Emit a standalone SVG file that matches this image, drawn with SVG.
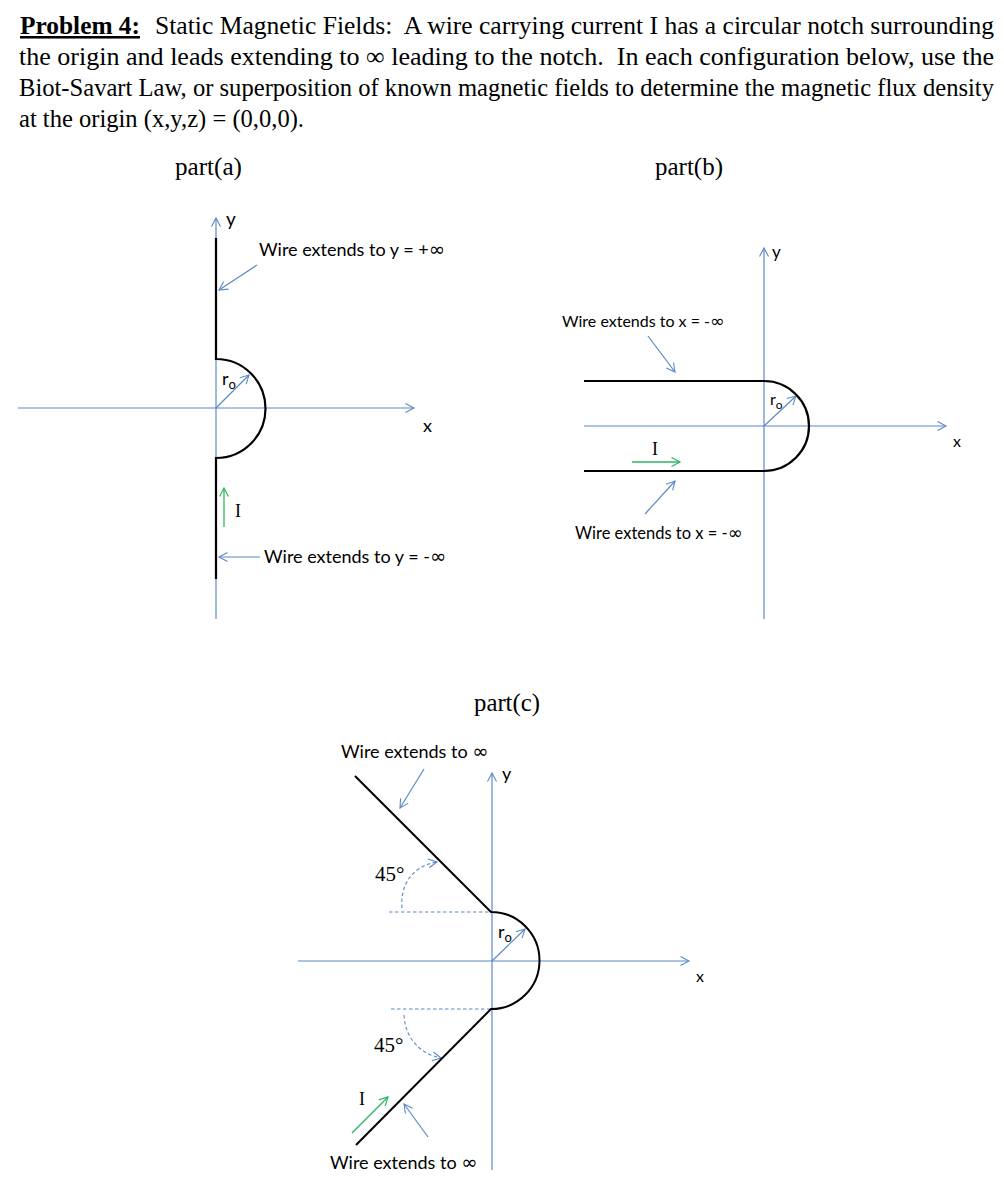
<svg xmlns="http://www.w3.org/2000/svg" width="1004" height="1196" viewBox="0 0 1004 1196">
<style>
text{fill:#000;white-space:pre}
.t{font-family:"Liberation Serif","Times New Roman",serif;font-size:25.5px}
.l{font-family:Lato,"Open Sans",sans-serif;font-size:18px}
.n{font-family:"DejaVu Sans",sans-serif;font-size:1.1em}
.m{font-family:"Liberation Serif",serif;font-size:18px}
.a{font-family:"Liberation Serif",serif;font-size:21px}
.ax{stroke:#5b8ac6;stroke-width:1.2;fill:none;marker-end:url(#b)}
.d{stroke:#5b8ac6;stroke-width:1.1;fill:none;stroke-dasharray:3.5 2.5}
.da{stroke:#5b8ac6;stroke-width:1.1;fill:none;stroke-dasharray:3.5 2.5;marker-end:url(#b)}
.w{stroke:#000;stroke-width:2.2;fill:none}
.g{stroke:#2db563;stroke-width:1.3;fill:none;marker-end:url(#g)}
</style>
<defs>
<marker id="b" markerUnits="userSpaceOnUse" markerWidth="12" markerHeight="12" refX="9" refY="5" orient="auto"><path d="M0.500 0.500L9 5L0.500 9.500" fill="none" stroke="#5b8ac6" stroke-width="1.1" stroke-dasharray="none"/></marker>
<marker id="g" markerUnits="userSpaceOnUse" markerWidth="12" markerHeight="12" refX="9" refY="5" orient="auto"><path d="M0.500 0.500L9 5L0.500 9.500" fill="none" stroke="#2db563" stroke-width="1.2"/></marker>
</defs>
<g id="problem-text">
<text class="t" x="20" y="34" font-weight="bold" text-decoration="underline" textLength="120" lengthAdjust="spacingAndGlyphs">Problem 4:</text>
<text class="t" x="155" y="34" textLength="839" lengthAdjust="spacingAndGlyphs">Static Magnetic Fields:  A wire carrying current I has a circular notch surrounding</text>
<text class="t" x="19" y="65" textLength="975" lengthAdjust="spacingAndGlyphs">the origin and leads extending to ∞ leading to the notch.  In each configuration below, use the</text>
<text class="t" x="19" y="96" textLength="975" lengthAdjust="spacingAndGlyphs" style="font-size:24.500px">Biot-Savart Law, or superposition of known magnetic fields to determine the magnetic flux density</text>
<text class="t" x="19" y="127" textLength="285" lengthAdjust="spacingAndGlyphs">at the origin (x,y,z) = (0,0,0).</text>
<text class="t" x="175" y="175" textLength="67" lengthAdjust="spacingAndGlyphs">part(a)</text>
<text class="t" x="655" y="175" textLength="68" lengthAdjust="spacingAndGlyphs">part(b)</text>
<text class="t" x="474" y="711" textLength="66" lengthAdjust="spacingAndGlyphs">part(c)</text>
</g>
<g id="connectors">
<path class="ax" d="M18 408H414"/>
<path class="ax" d="M216 619V218"/>
<path class="ax" d="M216 408L249 375"/>
<path class="ax" d="M257 265L219 290"/>
<path class="ax" d="M260 557H219"/>
<path class="g" d="M224 527V488"/>
<path class="ax" d="M584 426H946"/>
<path class="ax" d="M764 619V248"/>
<path class="ax" d="M764 426L796 396"/>
<path class="ax" d="M648 336L675 372"/>
<path class="ax" d="M645 514L675 481"/>
<path class="g" d="M632 462H680"/>
<path class="ax" d="M298 961H689"/>
<path class="ax" d="M492 1170V773"/>
<path class="ax" d="M492 961L525 929"/>
<path class="ax" d="M424 769L400 808"/>
<path class="ax" d="M428 1137L404 1104"/>
<path class="g" d="M352 1133L388 1097"/>
<path class="d" d="M389 912H491"/>
<path class="d" d="M391 1009H491"/>
<path class="da" d="M402 908C400 885 412 866 437 862"/>
<path class="da" d="M404 1015C405 1038 420 1054 441 1058"/>
</g>
<g id="wire-a"><path class="w" d="M216 238V359A49.500 49.500 0 0 1 216 458V579"/></g>
<g id="wire-b"><path class="w" d="M584 381H764A45 45 0 0 1 764 471H584"/></g>
<g id="wire-c"><path class="w" style="stroke-width:2" d="M355 776L491 912A48.500 48.500 0 0 1 491 1009L356 1145"/></g>
<g id="labels">
<text class="l" x="226" y="226" style="font-size:19px">y</text>
<text class="l" x="423" y="432">x</text>
<text class="l" x="259" y="256">Wire extends to y = +<tspan class="n">∞</tspan></text>
<text class="l" x="264" y="563">Wire extends to y = -<tspan class="n">∞</tspan></text>
<text class="m" x="235" y="517">I</text>
<text class="l" x="222" y="385" style="font-size:18px">r<tspan dy="4" font-size="13">o</tspan></text>
<text class="l" x="772" y="258" style="font-size:17px">y</text>
<text class="l" x="953" y="447" style="font-size:16px">x</text>
<text class="l" x="562" y="327" style="font-size:16px">Wire extends to x = -<tspan class="n">∞</tspan></text>
<text class="l" x="575" y="539" style="font-size:16.500px">Wire extends to x = -<tspan class="n">∞</tspan></text>
<text class="m" x="652" y="455">I</text>
<text class="l" x="770" y="405" style="font-size:16px">r<tspan dy="4" font-size="12">o</tspan></text>
<text class="l" x="502" y="780">y</text>
<text class="l" x="696" y="982" style="font-size:16px">x</text>
<text class="l" x="341" y="758">Wire extends to <tspan class="n">∞</tspan></text>
<text class="l" x="330" y="1169">Wire extends to <tspan class="n">∞</tspan></text>
<text class="a" x="375" y="881">45°</text>
<text class="a" x="374" y="1052">45°</text>
<text class="m" x="359" y="1105">I</text>
<text class="l" x="498" y="938" style="font-size:18px">r<tspan dy="4" font-size="13">o</tspan></text>
</g>
</svg>
